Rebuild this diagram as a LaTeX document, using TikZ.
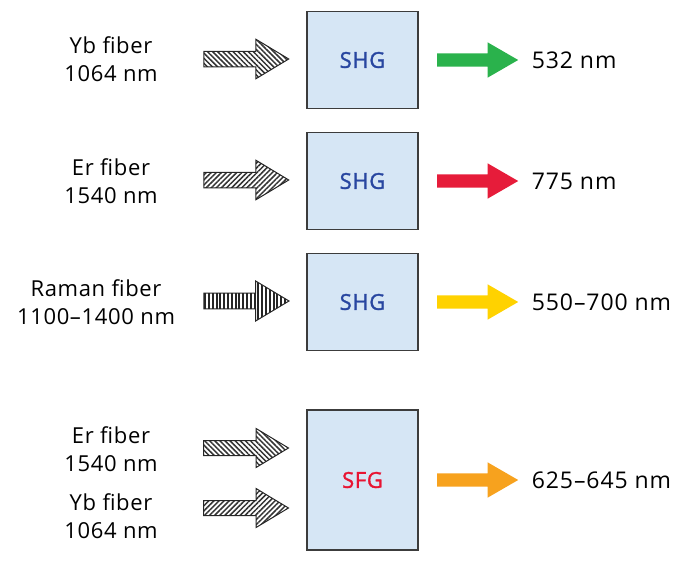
\documentclass[tikz,border=0pt]{standalone}
\usepackage{fontspec}
\setmainfont[LetterSpace=3]{Open Sans}
\usetikzlibrary{shapes.arrows,patterns.meta,positioning}

\definecolor{boxfill}{RGB}{214,230,245}
\definecolor{boxedge}{RGB}{60,60,60}
\definecolor{shgblue}{RGB}{40,70,160}
\definecolor{sfgred}{RGB}{232,20,50}
\definecolor{beamgreen}{RGB}{42,178,76}
\definecolor{beamred}{RGB}{230,28,58}
\definecolor{beamyellow}{RGB}{255,210,0}
\definecolor{beamorange}{RGB}{247,162,30}

\tikzset{
  crystal/.style={draw=boxedge, line width=1.2pt, fill=boxfill,
    minimum width=111pt, minimum height=97pt, inner sep=0pt,
    font=\fontsize{22}{26}\selectfont\addfontfeature{FakeBold=1.5}},
  pump/.style={single arrow, draw=black!85, line width=1pt, inner sep=0pt,
    inner ysep=7pt, minimum height=85pt, single arrow head extend=12pt,
    single arrow tip angle=62, anchor=tail},
  beam/.style={single arrow, draw=none, inner sep=0pt, inner ysep=6.5pt,
    minimum height=81pt, single arrow head extend=11pt,
    single arrow tip angle=60, anchor=tail},
  srclbl/.style={align=center, inner sep=0pt, font=\fontsize{22}{28}\selectfont},
  outlbl/.style={anchor=west, inner sep=0pt,
    font=\fontsize{23}{26}\selectfont\addfontfeature{LetterSpace=4}},
}

\begin{document}
\begin{tikzpicture}[x=1pt,y=-1pt]
  \useasboundingbox (0,0) rectangle (685,562);

  % Crystals
  \node[crystal] (shg1) at (362.5,60)  {\textcolor{shgblue}{SHG}};
  \node[crystal] (shg2) at (362.5,181) {\textcolor{shgblue}{SHG}};
  \node[crystal] (shg3) at (362.5,302) {\textcolor{shgblue}{SHG}};
  \node[crystal, minimum height=140pt] (sfg) at (362.5,480) {\textcolor{sfgred}{SFG}};

  % Pump arrows (hatched)
  \node[pump, pattern={Lines[angle=-45,distance=3.6pt,line width=1.5pt]}, pattern color=black!80] (ybin)  at (203,59)  {};
  \node[pump, pattern={Lines[angle=45,distance=3.6pt,line width=1.5pt]}, pattern color=black!80]  (erin)  at (203,180) {};
  \node[pump, pattern={Lines[angle=90,distance=3.8pt,line width=1.9pt]}, pattern color=black!85] (ramin) at (203,301) {};
  \node[pump, pattern={Lines[angle=-45,distance=3.6pt,line width=1.5pt]}, pattern color=black!80] (erin2) at (203,448) {};
  \node[pump, pattern={Lines[angle=45,distance=3.6pt,line width=1.5pt]}, pattern color=black!80]  (ybin2) at (203,508) {};

  % Sources
  \node[srclbl] (yb)  at (111,59)  {Yb fiber\\1064 nm};
  \node[srclbl] (er)  at (111,181) {Er fiber\\1540 nm};
  \node[srclbl] (ram) at (96,302)  {Raman fiber\\1100--1400 nm};
  \node[srclbl] (er2) at (111,449) {Er fiber\\1540 nm};
  \node[srclbl] (yb2) at (111,516) {Yb fiber\\1064 nm};

  % Output beams
  \node[beam, fill=beamgreen]  (outg) at (437,60)  {};
  \node[beam, fill=beamred]    (outr) at (437,181) {};
  \node[beam, fill=beamyellow] (outy) at (437,302) {};
  \node[beam, fill=beamorange] (outo) at (437,480) {};

  \node[outlbl, right=13pt of outg.tip] (wg) {532 nm};
  \node[outlbl, right=13pt of outr.tip] (wr) {775 nm};
  \node[outlbl, right=13pt of outy.tip] (wy) {550--700 nm};
  \node[outlbl, right=13pt of outo.tip] (wo) {625--645 nm};
\end{tikzpicture}
\end{document}
